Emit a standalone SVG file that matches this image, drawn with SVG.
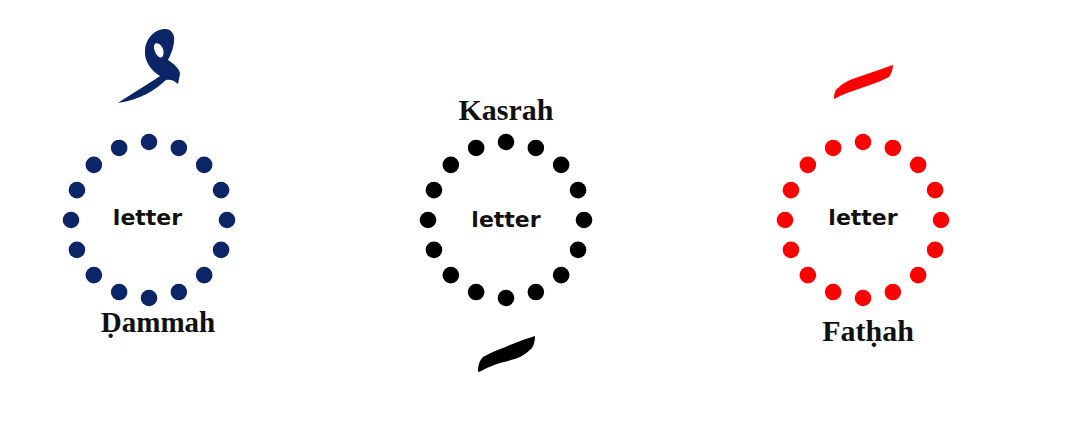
<svg xmlns="http://www.w3.org/2000/svg" xmlns:xlink="http://www.w3.org/1999/xlink" width="1080" height="433" viewBox="0 0 1080 433">
  <style>
    .letter { font-family: "DejaVu Sans", "Liberation Sans", sans-serif; font-weight: bold; font-size: 22px; fill: #111; text-anchor: middle; }
    .label { font-family: "Liberation Serif", "Times New Roman", serif; font-weight: bold; font-size: 30px; fill: #111; text-anchor: middle; }
  </style>
  <defs>
    <g id="ring">
      <circle cx="0" cy="-78" r="8.3"/>
      <circle cx="29.85" cy="-72.06" r="8.3"/>
      <circle cx="55.15" cy="-55.15" r="8.3"/>
      <circle cx="72.06" cy="-29.85" r="8.3"/>
      <circle cx="78" cy="0" r="8.3"/>
      <circle cx="72.06" cy="29.85" r="8.3"/>
      <circle cx="55.15" cy="55.15" r="8.3"/>
      <circle cx="29.85" cy="72.06" r="8.3"/>
      <circle cx="0" cy="78" r="8.3"/>
      <circle cx="-29.85" cy="72.06" r="8.3"/>
      <circle cx="-55.15" cy="55.15" r="8.3"/>
      <circle cx="-72.06" cy="29.85" r="8.3"/>
      <circle cx="-78" cy="0" r="8.3"/>
      <circle cx="-72.06" cy="-29.85" r="8.3"/>
      <circle cx="-55.15" cy="-55.15" r="8.3"/>
      <circle cx="-29.85" cy="-72.06" r="8.3"/>
    </g>
  </defs>
  <rect width="1080" height="433" fill="#ffffff"/>

  <g id="dammah">
    <path fill="#0b2566" fill-rule="evenodd" d="M118,103 C130,95 148,84 160,76 C150,70 144,60 145,50 C146,38 155,29 165,29 C172,29 175,35 174,42 C173,50 170,56 168,60 C174,64 180,69 180,74 L178,84 C174,80 170,79 166,80 C155,90 140,100 118,103 Z M155.5,43.5 C158,42 163,46 163.5,51 C164,56 162,58 160,57.5 C157,56.5 154,51 154,47 C154,45 154.5,44 155.5,43.5 Z"/>
    <use xlink:href="#ring" href="#ring" transform="translate(149,220)" fill="#0b2566"/>
    <text class="letter" x="147.5" y="225">letter</text>
    <text class="label" x="158" y="332" style="font-size:29px">Ḍammah</text>
  </g>

  <g id="kasrah">
    <text class="label" x="506" y="120">Kasrah</text>
    <use xlink:href="#ring" href="#ring" transform="translate(506,220)" fill="#000000"/>
    <text class="letter" x="506" y="227">letter</text>
    <path fill="#000000" d="M478,372 C478,366 479,361 483,357 C490,353 497,350 503,348 C510,345 517,342 523,340 C528,338 532,337 535,336 C535,341 534,345 532,348 C528,352 524,355 520,357 C513,360 507,361 500,363 C494,365 488,367 483,370 C481,371 479,372 478,372 Z"/>
  </g>

  <g id="fathah">
    <path fill="#ff0000" d="M834,99 C834,94 835,90 838,88 C842,84 846,82 850,80 C858,77 866,74 873,72 C881,69 887,67 893,65 C893,70 891,74 889,77 C883,80 876,83 870,85 C862,88 855,90 847,93 C842,95 838,97 834,99 Z"/>
    <use xlink:href="#ring" href="#ring" transform="translate(863,220)" fill="#ff0000"/>
    <text class="letter" x="863" y="225">letter</text>
    <text class="label" x="868" y="341">Fatḥah</text>
  </g>

  <g id="connectors"/>
</svg>
